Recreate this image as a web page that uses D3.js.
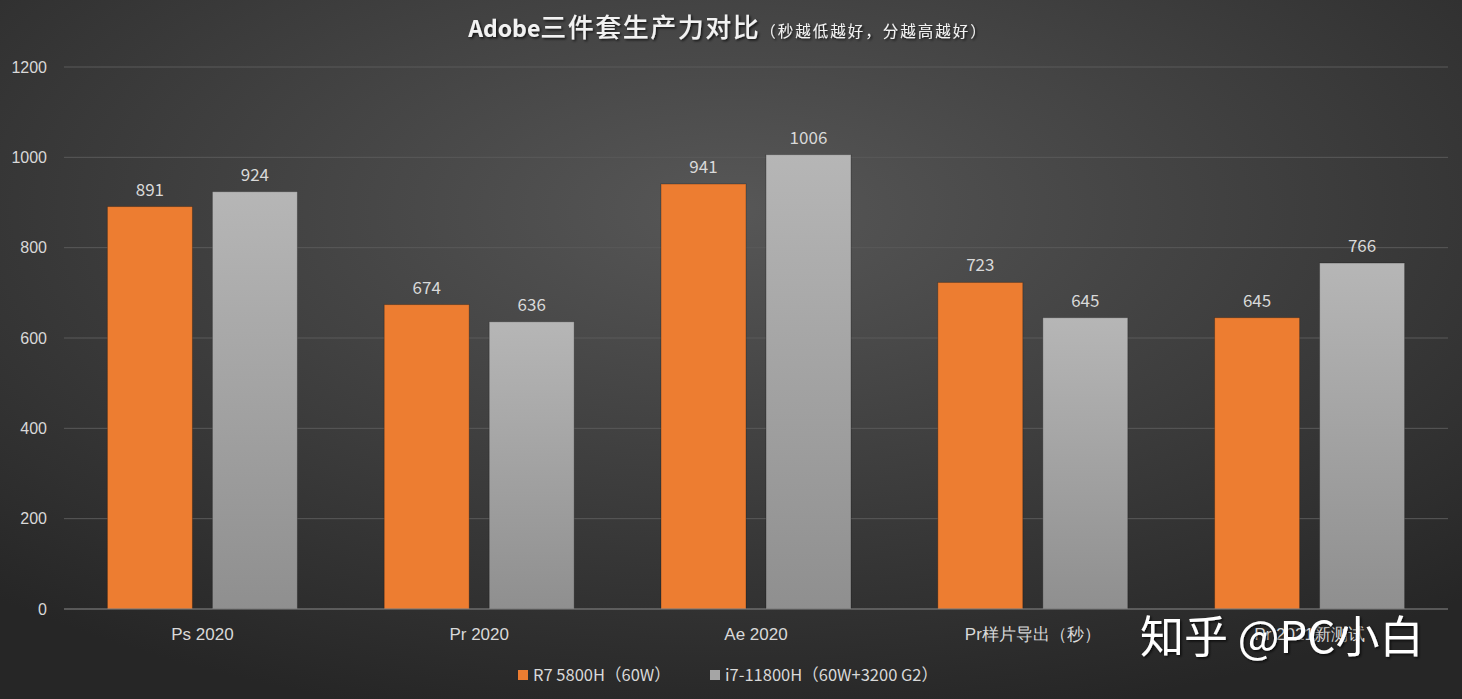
<!DOCTYPE html>
<html>
<head>
<meta charset="utf-8">
<script src="https://cdn.jsdelivr.net/npm/d3@7"></script>
<style>
  html, body { margin: 0; padding: 0; background: #2b2b2b; }
  svg { display: block; font-family: "Noto Sans CJK SC", "Noto Sans", sans-serif; }
</style>
</head>
<body>
<div id="chart"></div>
<script>
var categories = ["Ps 2020", "Pr 2020", "Ae 2020", "Pr样片导出（秒）", "Pr 2021新测试"];
var seriesNames = ["R7 5800H（60W）", "i7-11800H（60W+3200 G2）"];
var r7Values = [891, 674, 941, 723, 645];
var i7Values = [924, 636, 1006, 645, 766];
var yTicks = [0, 200, 400, 600, 800, 1000, 1200];

var width = 1462, height = 699;
var margin = {top: 67, right: 14, bottom: 90, left: 64};

var svg = d3.select("#chart").append("svg")
  .attr("width", width)
  .attr("height", height);

var defs = svg.append("defs");
var bg = defs.append("radialGradient")
  .attr("id", "bg")
  .attr("cx", "50%").attr("cy", "30%").attr("r", "75%");
bg.append("stop").attr("offset", "0%").attr("stop-color", "#575757");
bg.append("stop").attr("offset", "100%").attr("stop-color", "#262626");

var grayGrad = defs.append("linearGradient")
  .attr("id", "grayGrad")
  .attr("x1", 0).attr("y1", 0).attr("x2", 0).attr("y2", 1);
grayGrad.append("stop").attr("offset", "0%").attr("stop-color", "#b6b6b6");
grayGrad.append("stop").attr("offset", "100%").attr("stop-color", "#8f8f8f");

var shadow = defs.append("filter").attr("id", "shadow")
  .attr("x", "-10%").attr("y", "-10%").attr("width", "130%").attr("height", "130%");
shadow.append("feDropShadow").attr("dx", 1.5).attr("dy", 1.5)
  .attr("stdDeviation", 1).attr("flood-color", "#000").attr("flood-opacity", 0.7);

svg.append("rect")
  .attr("width", width).attr("height", height)
  .attr("fill", "url(#bg)");

var x0 = d3.scaleBand()
  .domain(categories)
  .range([margin.left, width - margin.right]);

// two bars of 85px with a 20px gap, centred in each category
var x1 = d3.scaleBand()
  .domain([0, 1])
  .range([x0.bandwidth() / 2 - 95, x0.bandwidth() / 2 + 95])
  .paddingInner(20 / 105);

var y = d3.scaleLinear()
  .domain([0, 1200])
  .range([height - margin.bottom, margin.top]);

// gridlines
svg.append("g")
  .selectAll("line")
  .data(yTicks.slice(1))
  .enter().append("line")
  .attr("x1", margin.left).attr("x2", width - margin.right)
  .attr("y1", d => y(d)).attr("y2", d => y(d))
  .style("stroke", "#5a5a5a")
  .style("stroke-width", 1);

// y axis labels
var yAxis = d3.axisLeft(y).tickValues(yTicks).tickFormat(d3.format("d")).tickSize(0).tickPadding(17);
var yg = svg.append("g")
  .attr("transform", "translate(" + margin.left + ",0)")
  .call(yAxis);
yg.select(".domain").remove();
yg.selectAll("text")
  .style("fill", "#d9d9d9")
  .style("font-size", "16px");

var colors = ["#ed7d31", "url(#grayGrad)"];
var legendColors = ["#ed7d31", "#a5a5a5"];
var data = categories.map(function(c, i) {
  return {cat: c, values: [r7Values[i], i7Values[i]]};
});

var groups = svg.append("g")
  .selectAll("g")
  .data(data)
  .enter().append("g")
  .attr("transform", d => "translate(" + x0(d.cat) + ",0)");

groups.selectAll("rect")
  .data(d => d.values.map((v, k) => ({k: k, v: v})))
  .enter().append("rect")
  .attr("x", d => x1(d.k))
  .attr("width", x1.bandwidth())
  .attr("y", d => y(d.v))
  .attr("height", d => y(0) - y(d.v))
  .style("fill", d => colors[d.k])
  .style("stroke", "rgba(0,0,0,0.25)")
  .style("stroke-width", 1);

groups.selectAll("text.val")
  .data(d => d.values.map((v, k) => ({k: k, v: v})))
  .enter().append("text")
  .attr("class", "val")
  .attr("x", d => x1(d.k) + x1.bandwidth() / 2)
  .attr("y", d => y(d.v) - 11)
  .attr("text-anchor", "middle")
  .style("fill", "#d9d9d9")
  .style("font-size", "17px")
  .text(d => d.v);

// zero line
svg.append("line")
  .attr("x1", margin.left).attr("x2", width - margin.right)
  .attr("y1", y(0)).attr("y2", y(0))
  .style("stroke", "#8a8a8a")
  .style("stroke-width", 1);

// category labels
var xAxis = d3.axisBottom(x0).tickSize(0).tickPadding(19);
var xg = svg.append("g")
  .attr("transform", "translate(0," + y(0) + ")")
  .call(xAxis);
xg.select(".domain").remove();
xg.selectAll("text")
  .style("fill", "#d9d9d9")
  .style("font-size", "17px");

// title
var title = svg.append("text")
  .attr("x", 728)
  .attr("y", 37)
  .attr("text-anchor", "middle")
  .attr("filter", "url(#shadow)")
  .style("fill", "#f2f2f2");
title.append("tspan")
  .style("font-size", "23px")
  .style("font-weight", "bold")
  .text("Adobe");
title.append("tspan")
  .style("font-size", "26px")
  .style("font-weight", "500")
  .style("letter-spacing", "1.5px")
  .text("三件套生产力对比");
title.append("tspan")
  .style("font-size", "15.5px")
  .style("letter-spacing", "2px")
  .text("（秒越低越好，分越高越好）");

// legend
var legend = svg.append("g")
  .attr("transform", "translate(518,676)");
var legendX = [0, 192];
seriesNames.forEach(function(name, i) {
  var lg = legend.append("g").attr("transform", "translate(" + legendX[i] + ",0)");
  lg.append("rect")
    .attr("x", 0).attr("y", -6)
    .attr("width", 10).attr("height", 10)
    .style("fill", legendColors[i]);
  lg.append("text")
    .attr("x", 15).attr("y", 5)
    .style("fill", "#d9d9d9")
    .style("font-size", "16.5px")
    .text(name);
});

// watermark
svg.append("text")
  .attr("x", 1140)
  .attr("y", 653)
  .attr("filter", "url(#shadow)")
  .style("fill", "#ffffff")
  .style("font-size", "44px")
  .text("知乎 @PC小白");
</script>
</body>
</html>
